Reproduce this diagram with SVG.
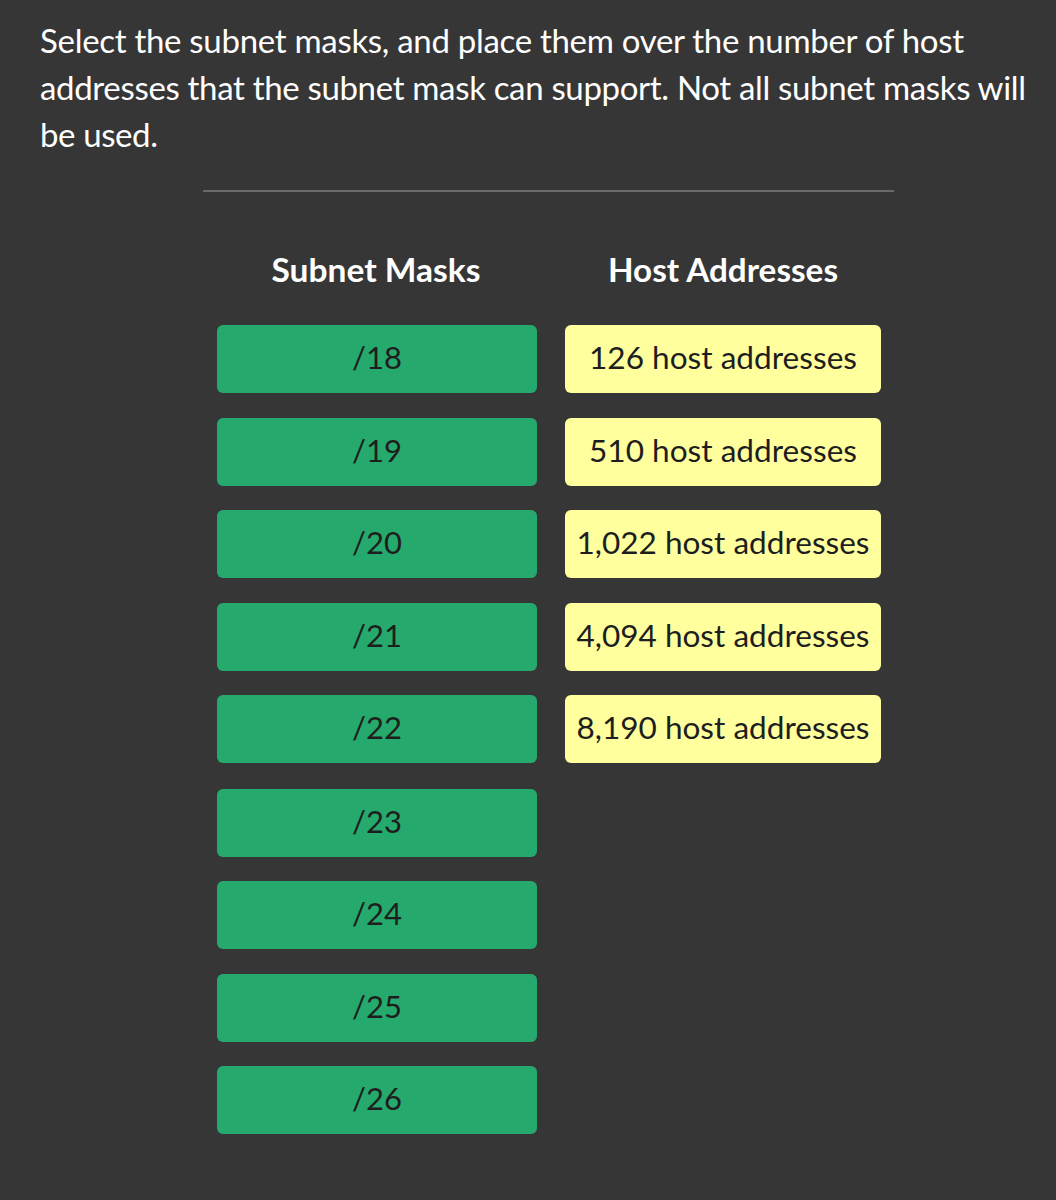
<svg xmlns="http://www.w3.org/2000/svg" width="1056" height="1200" viewBox="0 0 1056 1200">
<style>
.para{font-family:Lato,"Open Sans","Liberation Sans",sans-serif;font-size:33px;fill:#ffffff}
.hdr{font-family:Lato,"Open Sans","Liberation Sans",sans-serif;font-size:32px;font-weight:bold;fill:#ffffff;text-anchor:middle}
.mask rect{fill:#26a96c}
.host rect{fill:#ffff9e}
.lbl{font-family:Lato,"Open Sans","Liberation Sans",sans-serif;font-size:31px;fill:#1e1e1e;text-anchor:middle}
</style>
<rect width="1056" height="1200" fill="#363636"/>
<g id="instructions">
<text class="para" x="40" y="53" textLength="924" lengthAdjust="spacing">Select the subnet masks, and place them over the number of host</text>
<text class="para" x="40" y="100" textLength="986" lengthAdjust="spacing">addresses that the subnet mask can support. Not all subnet masks will</text>
<text class="para" x="40" y="147" textLength="118" lengthAdjust="spacing">be used.</text>
</g>
<line x1="203" y1="191" x2="894" y2="191" stroke="#6a6a6a" stroke-width="2"/>
<g id="headers">
<text class="hdr" x="376" y="282" textLength="209" lengthAdjust="spacingAndGlyphs">Subnet Masks</text>
<text class="hdr" x="723" y="282" textLength="230" lengthAdjust="spacingAndGlyphs">Host Addresses</text>
</g>
<g id="masks">
<g id="mask-18" class="mask"><rect x="217" y="325" width="320" height="68" rx="6"/><text class="lbl" x="377" y="369">/18</text></g>
<g id="mask-19" class="mask"><rect x="217" y="418" width="320" height="68" rx="6"/><text class="lbl" x="377" y="462">/19</text></g>
<g id="mask-20" class="mask"><rect x="217" y="510" width="320" height="68" rx="6"/><text class="lbl" x="377" y="554">/20</text></g>
<g id="mask-21" class="mask"><rect x="217" y="603" width="320" height="68" rx="6"/><text class="lbl" x="377" y="647">/21</text></g>
<g id="mask-22" class="mask"><rect x="217" y="695" width="320" height="68" rx="6"/><text class="lbl" x="377" y="739">/22</text></g>
<g id="mask-23" class="mask"><rect x="217" y="789" width="320" height="68" rx="6"/><text class="lbl" x="377" y="833">/23</text></g>
<g id="mask-24" class="mask"><rect x="217" y="881" width="320" height="68" rx="6"/><text class="lbl" x="377" y="925">/24</text></g>
<g id="mask-25" class="mask"><rect x="217" y="974" width="320" height="68" rx="6"/><text class="lbl" x="377" y="1018">/25</text></g>
<g id="mask-26" class="mask"><rect x="217" y="1066" width="320" height="68" rx="6"/><text class="lbl" x="377" y="1110">/26</text></g>
</g>
<g id="hosts">
<g id="host-126" class="host"><rect x="565" y="325" width="316" height="68" rx="6"/><text class="lbl" x="723" y="369" textLength="268" lengthAdjust="spacingAndGlyphs">126 host addresses</text></g>
<g id="host-510" class="host"><rect x="565" y="418" width="316" height="68" rx="6"/><text class="lbl" x="723" y="462" textLength="268" lengthAdjust="spacingAndGlyphs">510 host addresses</text></g>
<g id="host-1022" class="host"><rect x="565" y="510" width="316" height="68" rx="6"/><text class="lbl" x="723" y="554" textLength="293" lengthAdjust="spacingAndGlyphs">1,022 host addresses</text></g>
<g id="host-4094" class="host"><rect x="565" y="603" width="316" height="68" rx="6"/><text class="lbl" x="723" y="647" textLength="293" lengthAdjust="spacingAndGlyphs">4,094 host addresses</text></g>
<g id="host-8190" class="host"><rect x="565" y="695" width="316" height="68" rx="6"/><text class="lbl" x="723" y="739" textLength="293" lengthAdjust="spacingAndGlyphs">8,190 host addresses</text></g>
</g>
<g id="connectors"/>
</svg>
